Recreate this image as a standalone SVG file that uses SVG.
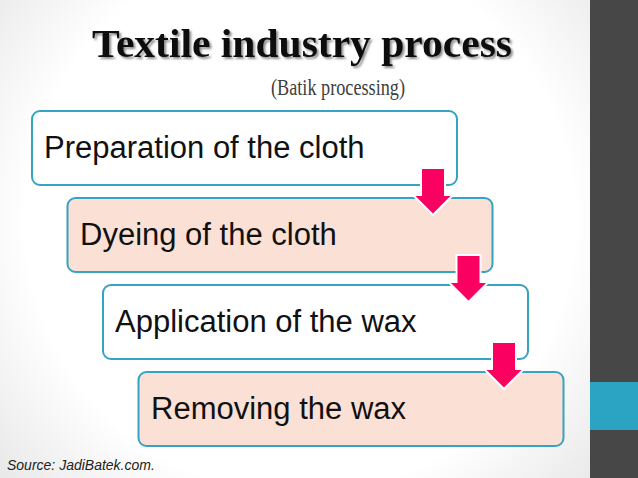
<svg xmlns="http://www.w3.org/2000/svg" width="638" height="478" viewBox="0 0 638 478">
  <defs>
    <radialGradient id="bg" cx="300" cy="220" r="440" gradientUnits="userSpaceOnUse">
      <stop offset="0" stop-color="#ffffff"/>
      <stop offset="0.62" stop-color="#ffffff"/>
      <stop offset="1" stop-color="#e0e0e0"/>
    </radialGradient>
    <filter id="shadow" x="-10%" y="-30%" width="120%" height="160%">
      <feDropShadow dx="2" dy="2" stdDeviation="1" flood-color="#000" flood-opacity="0.45"/>
    </filter>
  </defs>
  <style>
    .box { stroke: #35a3c4; stroke-width: 2; }
    .white { fill: #ffffff; }
    .peach { fill: #fbe0d5; }
    .label { font-family: "Liberation Sans", Arial, sans-serif; font-size: 31px; fill: #111; }
    .arrow { fill: #fa0060; stroke: #ffffff; stroke-width: 2; stroke-linejoin: miter; }
  </style>
  <rect x="0" y="0" width="590" height="478" fill="url(#bg)"/>
  <rect x="590" y="0" width="48" height="478" fill="#474747"/>
  <rect x="590" y="382" width="48" height="48" fill="#2ba3c2"/>

  <g id="title">
    <text x="92" y="57" font-family="'Liberation Serif', 'DejaVu Serif', serif" font-weight="bold" font-size="39" fill="#111" textLength="420" lengthAdjust="spacingAndGlyphs" filter="url(#shadow)">Textile industry process</text>
    <text x="271" y="95" font-family="'Liberation Serif', 'DejaVu Serif', serif" font-size="23" fill="#404040" textLength="134" lengthAdjust="spacingAndGlyphs">(Batik processing)</text>
  </g>

  <g id="node1">
    <rect class="box white" x="32" y="111" width="425" height="74" rx="8"/>
    <text class="label" x="44" y="158">Preparation of the cloth</text>
  </g>
  <g id="node2">
    <rect class="box peach" x="67.5" y="198" width="425" height="74" rx="8"/>
    <text class="label" x="80" y="245">Dyeing of the cloth</text>
  </g>
  <g id="node3">
    <rect class="box white" x="103" y="285" width="425" height="74" rx="8"/>
    <text class="label" x="115" y="332">Application of the wax</text>
  </g>
  <g id="node4">
    <rect class="box peach" x="138.5" y="372" width="425" height="74" rx="8"/>
    <text class="label" x="151" y="419">Removing the wax</text>
  </g>

  <g id="connectors">
    <path class="arrow" d="M421,168 H445 V195 H453 L433,215 L413,195 H421 Z"/>
    <path class="arrow" d="M456.5,255 H480.5 V282 H488.5 L468.5,302 L448.5,282 H456.5 Z"/>
    <path class="arrow" d="M492,342 H516 V369 H524 L504,389 L484,369 H492 Z"/>
  </g>

  <text x="7" y="470" font-family="'Liberation Sans', Arial, sans-serif" font-style="italic" font-size="14" fill="#222">Source: JadiBatek.com.</text>
</svg>
